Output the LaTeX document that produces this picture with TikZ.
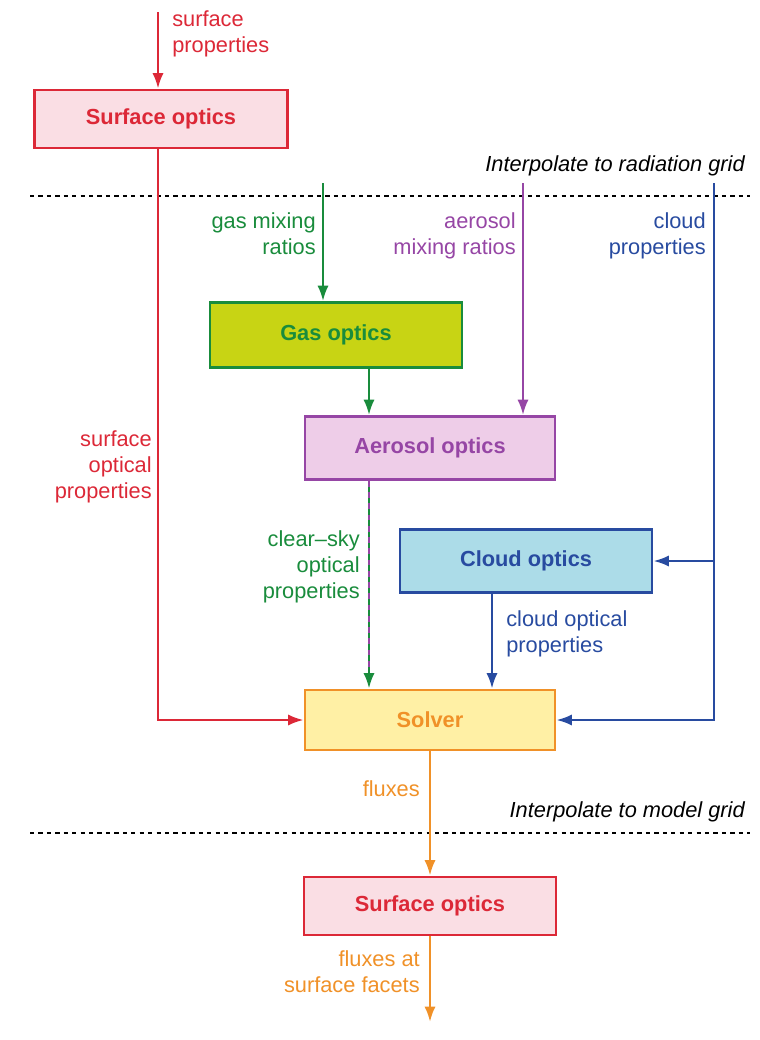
\documentclass[tikz,border=0pt]{standalone}
\usepackage{fontspec}
\setmainfont{Liberation Sans}
\usetikzlibrary{positioning,arrows.meta}
\definecolor{sred}{RGB}{220,40,55}
\definecolor{sredfill}{RGB}{250,222,228}
\definecolor{ggreen}{RGB}{25,140,60}
\definecolor{gfill}{RGB}{200,212,20}
\definecolor{apurple}{RGB}{150,70,165}
\definecolor{afill}{RGB}{238,205,232}
\definecolor{cblue}{RGB}{40,75,160}
\definecolor{cfill}{RGB}{172,220,232}
\definecolor{sorange}{RGB}{240,145,40}
\definecolor{sfill}{RGB}{255,240,165}
\setlength{\unitlength}{0.025cm}
\tikzset{
  box/.style={draw, line width=2pt, minimum width=252\unitlength, minimum height=60\unitlength,
    font=\fontsize{15.5}{18}\selectfont\bfseries},
  lbl/.style={font=\fontsize{15.5}{18.5}\selectfont, inner sep=0pt},
  flow/.style={line width=1.8pt, -{Latex[length=11pt,width=8pt]}},
}
\begin{document}
\begin{tikzpicture}[x=0.025cm, y=-0.025cm]
    \useasboundingbox (0,0) rectangle (760,1040);

    % boxes
    \node[box, draw=sred, fill=sredfill, text=sred, minimum width=253\unitlength, minimum height=58\unitlength] (surftop) at (161,119) {Surface optics};
    \node[box, draw=ggreen, fill=gfill, text=ggreen, minimum height=65\unitlength] (gas) at (336,335) {Gas optics};
    \node[box, draw=apurple, fill=afill, text=apurple, minimum width=250\unitlength, minimum height=63\unitlength] (aero) at (430,448) {Aerosol optics};
    \node[box, draw=cblue, fill=cfill, text=cblue, minimum height=63\unitlength] (cloud) at (526,561) {Cloud optics};
    \node[box, draw=sorange, fill=sfill, text=sorange, minimum width=250\unitlength] (solver) at (430,720) {Solver};
    \node[box, draw=sred, fill=sredfill, text=sred, minimum width=252\unitlength, minimum height=58\unitlength] (surfbot) at (430,906) {Surface optics};

    % interpolation lines
    \draw[dashed, line width=1pt] (30,196) -- (750,196);
    \draw[dashed, line width=1pt] (30,833) -- (750,833);
    \node[lbl, anchor=south east, font=\fontsize{15.5}{18.5}\selectfont\itshape] (radgrid) at (745,176) {Interpolate to radiation grid};
    \node[lbl, anchor=south east, font=\fontsize{15.5}{18.5}\selectfont\itshape] (modgrid) at (745,822) {Interpolate to model grid};

    % free ends
    \coordinate (surfin) at (158,12);
    \coordinate (gasin) at (323,183);
    \coordinate (aeroin) at (523,183);
    \coordinate (cloudin) at (714,183);
    \coordinate (cloudbend) at (714,720);
    \coordinate (redbend) at (158,720);
    \coordinate (out) at (430,1022);

    % connectors
    \draw[flow, sred] (surfin) -- (surftop.north -| surfin);
    \draw[flow, sred] (surftop.south -| surfin) -- (redbend) -- (solver.west);
    \draw[flow, ggreen] (gasin) -- (gas.north -| gasin);
    \draw[flow, apurple] (aeroin) -- (aero.north -| aeroin);
    \draw[flow, cblue] (cloudin) -- (cloudbend) -- (solver.east);
    \draw[flow, cblue] (cloud.east -| cloudin) -- (cloud.east);
    \draw[flow, ggreen] (gas.south -| 369,0) -- (aero.north -| 369,0);
    \draw[flow, ggreen] (aero.south -| 369,0) -- (solver.north -| 369,0);
    \draw[apurple, line width=1.8pt, dash pattern=on 4pt off 4pt] (aero.south -| 369,0) -- ([yshift=14pt]solver.north -| 369,0);
    \draw[flow, cblue] (cloud.south -| 492,0) -- (solver.north -| 492,0);
    \draw[flow, sorange] (solver.south) -- (surfbot.north);
    \draw[flow, sorange] (surfbot.south) -- (out);

    % labels
    \node[lbl, text=sred, align=left, anchor=north west] (l1) at (172,10) {surface\\properties};
    \node[lbl, text=ggreen, align=right, anchor=north east] (l2) at (316,212) {gas mixing\\ratios};
    \node[lbl, text=apurple, align=right, anchor=north east] (l3) at (516,212) {aerosol\\mixing ratios};
    \node[lbl, text=cblue, align=right, anchor=north east] (l4) at (706,212) {cloud\\properties};
    \node[lbl, text=sred, align=right, anchor=north east] (l5) at (152,430) {surface\\optical\\properties};
    \node[lbl, text=ggreen, align=right, anchor=north east] (l6) at (360,530) {clear--sky\\optical\\properties};
    \node[lbl, text=cblue, align=left, anchor=north west] (l7) at (506,610) {cloud optical\\properties};
    \node[lbl, text=sorange, align=right, anchor=north east] (l8) at (420,780) {fluxes};
    \node[lbl, text=sorange, align=right, anchor=north east] (l9) at (420,950) {fluxes at\\surface facets};
\end{tikzpicture}
\end{document}
